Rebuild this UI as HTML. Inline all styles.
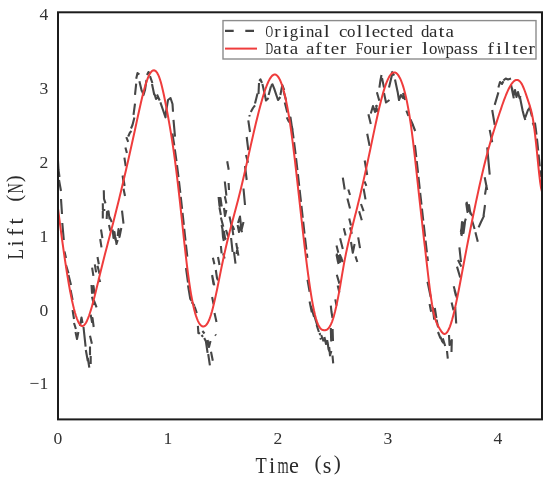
<!DOCTYPE html>
<html><head><meta charset="utf-8"><style>
html,body{margin:0;padding:0;background:#fff;}
svg{display:block;}
</style></head><body>
<svg width="550" height="481" viewBox="0 0 550 481">
<rect x="0" y="0" width="550" height="481" fill="#fff"/>
<g fill="none" stroke="#464646" stroke-width="2.1" stroke-linejoin="round" stroke-linecap="butt">
<path d="M58.0,161.0 L58.5,170.0 L59.5,177.0 M59.0,180.0 L61.0,191.0 M61.0,199.0 L62.0,214.0 M62.3,223.0 L63.8,240.0 M64.5,251.6 L66.0,258.0 M66.0,265.0 L68.5,273.3 M68.5,275.0 L71.0,285.0 M70.6,290.0 L72.6,300.0 M72.6,310.0 L74.0,319.0 M74.0,323.0 L75.9,329.0 M75.5,332.0 L77.0,339.0 L78.4,332.0 M80.0,326.0 L81.5,317.5 L82.5,323.0 M83.5,327.0 L85.6,346.6 M85.8,350.0 L87.8,361.0 M87.8,358.0 L89.3,367.7 M90.0,346.6 L90.0,355.3 M90.7,356.0 L90.7,364.0 M90.0,335.7 L91.9,343.7 M90.7,314.6 L92.0,322.0 L92.5,318.0 L93.7,327.0 M93.7,300.0 L96.6,307.3 M92.0,296.8 L94.0,305.0 M91.5,285.0 L92.0,293.0 L93.5,286.0 L94.5,294.0 M98.8,277.8 L100.2,282.0 M92.1,267.7 L93.4,275.8 M94.8,264.3 L96.1,272.4 M97.5,265.7 L99.5,273.8 M97.5,257.0 L98.8,264.3 M100.2,239.0 L101.5,247.4 M103.8,190.2 L104.0,198.9 L105.5,203.3 M102.8,203.3 L102.9,210.0 L105.3,210.0 M102.8,211.0 L102.8,218.6 M106.7,219.0 L107.0,212.0 L108.5,211.3 L109.6,219.3 M109.6,217.0 L111.8,222.2 M109.0,225.0 L110.4,231.0 M101.0,229.5 L102.4,238.2 M112.6,229.5 L113.5,238.0 L114.5,232.0 L115.5,240.4 M115.5,237.5 L116.5,244.0 L117.7,240.0 M117.7,236.0 L118.5,229.0 L119.5,237.0 L121.3,228.0 M122.0,210.6 L123.5,223.7 M123.5,188.7 L125.0,196.0 M123.6,179.5 L124.6,186.0 M122.6,175.5 L123.9,185.0 M124.4,157.7 L125.7,166.2 M125.4,147.4 L126.9,153.0 M126.3,137.1 L128.2,141.8 M128.2,136.5 L130.0,132.5 L131.5,131.0 M131.0,128.5 L132.5,125.0 L134.4,117.4 M133.5,114.9 L135.0,103.7 M135.0,94.9 L136.2,83.7 M136.2,78.7 L137.5,73.1 L139.4,74.5 M139.4,81.2 L141.8,91.2 M142.0,91.0 L143.5,95.0 L145.0,90.0 L146.5,80.0 M147.0,75.0 L148.5,72.0 L150.0,74.0 M150.0,76.2 L152.4,83.0 M152.0,84.0 L154.3,95.0 M154.5,94.0 L156.0,99.0 L158.0,97.0 M157.0,94.5 L159.7,100.5 M160.4,102.3 L163.0,110.0 L165.5,117.3 L166.0,112.0 L168.0,100.0 L170.5,98.0 L172.5,104.0 L173.0,111.7 M173.5,119.8 L175.0,136.6 M186.0,268.0 L188.0,282.5 M188.0,285.4 L190.3,299.0 L191.7,301.0 M191.7,302.0 L194.6,305.8 M194.6,306.5 L196.8,313.0 M197.9,325.9 L198.4,333.3 L200.2,333.3 M202.4,331.0 L204.5,333.5 M201.5,335.0 L203.0,336.8 M204.2,338.0 L206.5,342.5 M205.9,341.3 L207.6,352.8 M207.6,340.0 L209.0,347.0 L210.5,341.0 M208.2,354.0 L209.9,365.4 M211.0,351.7 L212.8,360.8 M214.5,313.0 L216.5,322.0 M215.2,334.5 L216.0,335.5 M212.1,297.0 L213.6,304.3 M212.1,275.0 L214.3,285.4 M212.2,276.0 L213.6,284.7 M215.8,270.0 L217.0,278.0 L218.0,280.3 M212.9,257.8 L214.4,264.3 M218.0,257.0 L219.5,265.0 M220.9,246.0 L221.6,253.4 M223.1,253.4 L224.6,258.5 M221.6,225.0 L223.1,232.3 M222.4,229.4 L223.0,237.0 L223.8,241.0 M223.8,231.0 L225.0,238.0 L226.0,239.6 M226.0,230.0 L228.2,236.6 M231.1,238.0 L232.6,252.0 M231.8,225.0 L233.3,235.2 M234.0,252.0 L235.5,263.6 M236.5,254.0 L237.6,247.0 M236.2,243.0 L238.4,255.6 M237.6,225.0 L239.0,232.0 L240.5,226.0 L242.0,232.3 M227.2,161.2 L228.7,169.8 M224.8,181.5 L226.4,195.6 M228.6,183.0 L229.0,190.0 M224.8,196.3 L226.4,203.4 M218.6,197.0 L219.5,206.0 L220.5,198.0 L221.7,206.5 M219.4,207.3 L220.9,215.0 M224.0,208.0 L225.0,216.0 L226.4,210.0 M220.9,217.4 L223.3,226.8 M229.5,216.6 L231.8,226.8 M232.6,226.0 L234.2,230.0 M238.0,223.0 L240.0,216.6 L241.5,230.0 L243.5,222.0 M243.5,188.5 L245.0,205.0 M245.0,166.0 L246.7,180.0 M246.0,155.0 L248.0,162.8 M246.7,137.0 L248.3,150.2 M248.3,120.3 L250.0,132.0 M249.3,115.0 L249.8,116.5 M250.8,112.0 L253.0,108.0 L255.0,105.3 M255.0,103.6 L257.5,93.6 M258.5,94.0 L259.0,83.0 M259.3,81.0 L260.5,79.4 L262.0,83.0 M262.4,84.0 L264.9,95.0 M264.9,95.0 L266.0,100.5 L268.6,98.0 M268.6,95.0 L271.0,86.2 M271.0,86.0 L272.5,84.3 L274.2,88.7 M274.2,88.7 L276.7,96.2 M276.7,96.0 L278.0,100.0 L280.4,97.0 M280.4,95.0 L282.3,85.0 L284.2,90.0 M283.6,91.2 L286.0,100.0 M284.8,102.4 L287.3,112.4 M286.7,117.4 L289.2,122.4 M289.0,122.0 L290.5,117.5 L292.3,130.0 M307.5,279.7 L309.6,291.7 M309.6,301.5 L311.8,312.4 M311.0,306.0 L314.0,316.8 M314.0,314.6 L317.3,325.5 M316.6,325.0 L318.9,332.0 M319.5,333.0 L320.3,335.0 M320.2,338.0 L321.0,339.5 M321.2,335.0 L323.6,341.5 M324.4,337.0 L326.0,344.0 L327.5,340.0 M327.5,341.5 L328.5,349.0 L329.8,352.4 M329.2,347.0 L330.0,355.5 L331.4,351.0 M330.8,328.0 L331.2,341.5 M332.6,329.0 L333.0,341.0 M332.5,355.5 L333.2,363.3 M330.8,305.6 L331.5,312.0 L332.5,318.0 M335.3,299.4 L336.5,305.6 M336.8,274.7 L339.4,283.6 M337.7,285.5 L339.4,292.4 M336.8,253.5 L337.5,258.0 L338.5,264.0 M338.5,255.0 L340.0,262.0 L341.5,257.0 M342.8,177.7 L344.7,189.5 M348.3,189.5 L350.0,195.0 M347.4,198.5 L350.0,208.5 M349.2,218.4 L351.0,225.6 M350.0,227.4 L351.9,233.8 M343.8,228.3 L345.6,235.6 M340.1,238.3 L342.8,249.1 M336.5,245.5 L338.3,252.8 M336.5,254.6 L338.0,262.0 L340.0,255.0 L342.8,262.0 M351.0,242.0 L352.8,252.8 L354.6,244.0 M355.5,256.4 L357.3,262.0 M358.2,237.4 L360.0,248.2 M359.1,211.2 L361.8,220.2 M361.0,204.0 L363.6,211.2 M363.6,188.6 L365.5,199.4 M364.5,181.3 L366.4,185.8 M364.7,160.5 L367.2,175.0 M367.2,133.7 L369.6,145.9 M368.4,114.2 L370.8,124.0 M370.8,113.5 L373.0,106.0 L375.0,112.0 L377.0,105.0 M376.9,92.3 L379.3,100.8 M376.0,105.0 L377.4,112.0 M379.4,87.6 L380.5,80.0 L381.5,75.0 M382.0,78.0 L384.0,87.6 M384.0,93.0 L386.0,102.5 L389.5,100.0 M389.0,87.6 L392.2,74.0 M391.5,71.4 L394.2,75.5 M395.0,79.5 L397.6,91.7 M397.6,91.7 L399.0,100.0 L401.0,95.0 L403.0,98.0 L404.4,93.0 M403.0,93.0 L405.0,100.0 M406.4,110.6 L408.4,116.0 M410.5,119.4 L413.2,125.5 M412.5,124.0 L415.2,131.0 M427.5,281.8 L430.7,297.0 M429.6,304.0 L431.1,311.8 M432.7,307.0 L434.2,319.6 M434.8,308.0 L436.4,318.0 M436.6,319.6 L438.1,327.4 M438.0,332.0 L440.5,338.4 M440.5,336.8 L442.0,341.0 L443.6,343.0 M442.8,338.4 L445.2,346.0 M447.0,351.0 L447.8,358.6 M449.0,335.0 L449.5,345.0 L451.8,340.0 L451.5,352.0 M451.6,302.5 L453.5,310.3 M455.2,307.0 L456.2,323.5 M453.7,286.2 L457.0,298.2 M454.5,290.0 L456.0,296.0 M457.0,266.6 L460.2,277.5 M458.0,260.0 L461.3,266.6 M460.8,232.0 L462.3,224.0 L463.5,233.0 L465.0,222.0 M461.5,236.0 L462.8,228.0 M466.2,203.0 L467.5,212.0 L469.0,205.0 L470.5,214.0 M459.4,247.4 L461.0,262.0 M461.0,234.6 L462.0,222.0 L463.0,230.0 L464.2,221.8 M463.4,226.6 L465.8,218.6 M466.6,201.8 L468.0,210.0 L469.8,211.4 M469.0,208.2 L471.0,214.0 L473.0,216.2 M472.2,221.0 L474.6,229.0 M475.4,232.2 L477.8,241.8 M478.6,227.4 L481.0,222.0 L484.2,215.4 M483.4,217.0 L485.0,205.0 M485.0,194.6 L486.6,185.0 M484.7,177.2 L487.2,190.0 M487.2,147.3 L489.7,174.7 M489.7,129.9 L492.2,142.3 M492.2,110.0 L494.7,124.9 M494.7,104.9 L498.4,92.4 M498.4,87.5 L500.0,82.0 L502.0,84.0 L503.4,81.2 M503.4,80.5 L505.7,78.5 L508.0,79.5 L511.0,78.5 M511.1,84.9 L512.5,92.0 L513.8,98.4 M512.0,88.0 L513.5,96.0 L515.0,90.0 L516.5,97.0 L518.0,92.0 L519.5,98.0 L520.6,96.0 M519.9,97.0 L522.6,110.5 M522.6,110.5 L524.0,116.0 L525.3,120.0 M525.3,117.3 L528.0,110.0 L530.0,107.8 M529.4,106.5 L532.0,116.6 M532.7,122.7 L535.4,129.5"/>
<path d="M172.4,133.5 L172.9,136.6 L173.4,139.8 L173.9,143.0 L174.4,146.3 L174.9,149.8 L175.4,153.3 L175.9,157.0 L176.4,160.7 L176.9,164.5 L177.4,168.4 L177.9,172.4 L178.4,176.5 L178.9,180.7 L179.4,184.9 L179.9,189.2 L180.4,193.6 L180.9,198.0 L181.4,202.5 L181.9,207.0 L182.4,211.6 L182.9,216.3 L183.4,220.9 L183.9,225.6 L184.4,230.3 L184.9,235.0 L185.4,239.6 L185.9,244.2 L186.4,248.7 L186.9,253.1 L187.4,257.5 M291.9,126.4 L292.4,129.8 L292.9,133.4 L293.4,137.1 L293.9,140.9 L294.4,144.8 L294.9,148.8 L295.4,152.8 L295.9,157.0 L296.4,161.2 L296.9,165.5 L297.4,169.8 L297.9,174.2 L298.4,178.6 L298.9,183.1 L299.4,187.6 L299.9,192.1 L300.4,196.6 L300.9,201.1 L301.4,205.6 L301.9,210.2 L302.4,214.7 L302.9,219.2 L303.4,223.6 L303.9,228.1 L304.4,232.5 L304.9,236.8 L305.4,241.1 L305.9,245.4 L306.4,249.6 L306.9,253.8 L307.4,257.9 M414.9,145.1 L415.4,149.4 L415.9,153.7 L416.4,158.1 L416.9,162.6 L417.4,167.1 L417.9,171.7 L418.4,176.3 L418.9,180.9 L419.4,185.6 L419.9,190.2 L420.4,194.8 L420.9,199.3 L421.4,203.9 L421.9,208.4 L422.4,212.8 L422.9,217.3 L423.4,221.7 L423.9,226.1 L424.4,230.5 L424.9,234.9 L425.4,239.3 L425.9,243.6 L426.4,248.0 L426.9,252.3 L427.4,256.7 L427.9,261.0 M534.9,122.7 L535.4,126.2 L535.9,129.9 L536.4,134.0 L536.9,138.3 L537.4,142.8 L537.9,147.6 L538.4,152.5 L538.9,157.5 L539.4,162.6 L539.9,167.6 L540.4,172.3 L540.9,176.8" stroke-dasharray="12 4"/>
</g>
<path d="M58.0,208.3 L59.0,216.2 L60.0,223.9 L61.0,231.5 L62.0,239.0 L63.0,246.2 L64.0,253.3 L65.0,260.1 L66.0,266.7 L67.0,273.1 L68.0,279.2 L69.0,285.0 L70.0,290.5 L71.0,295.6 L72.0,300.5 L73.0,304.9 L74.0,309.0 L75.0,312.7 L76.0,316.0 L77.0,318.8 L78.0,321.2 L79.0,323.2 L80.0,324.6 L81.0,325.6 L82.0,326.0 L83.0,325.9 L84.0,325.3 L85.0,324.2 L86.0,322.7 L87.0,320.7 L88.0,318.4 L89.0,315.8 L90.0,312.8 L91.0,309.6 L92.0,306.2 L93.0,302.5 L94.0,298.7 L95.0,294.7 L96.0,290.7 L97.0,286.5 L98.0,282.4 L99.0,278.2 L100.0,274.0 L101.0,269.9 L102.0,265.9 L103.0,261.9 L104.0,258.0 L105.0,254.1 L106.0,250.2 L107.0,246.4 L108.0,242.5 L109.0,238.7 L110.0,234.9 L111.0,231.1 L112.0,227.2 L113.0,223.4 L114.0,219.5 L115.0,215.5 L116.0,211.6 L117.0,207.6 L118.0,203.5 L119.0,199.4 L120.0,195.3 L121.0,191.2 L122.0,187.0 L123.0,182.8 L124.0,178.5 L125.0,174.2 L126.0,169.9 L127.0,165.5 L128.0,161.2 L129.0,156.7 L130.0,152.3 L131.0,147.8 L132.0,143.3 L133.0,138.8 L134.0,134.2 L135.0,129.7 L136.0,125.0 L137.0,120.4 L138.0,115.8 L139.0,111.2 L140.0,106.7 L141.0,102.3 L142.0,98.1 L143.0,94.0 L144.0,90.2 L145.0,86.6 L146.0,83.3 L147.0,80.3 L148.0,77.6 L149.0,75.4 L150.0,73.5 L151.0,72.1 L152.0,71.0 L153.0,70.4 L154.0,70.3 L155.0,70.6 L156.0,71.4 L157.0,72.6 L158.0,74.4 L159.0,76.7 L160.0,79.5 L161.0,82.8 L162.0,86.7 L163.0,90.9 L164.0,95.5 L165.0,100.5 L166.0,105.6 L167.0,110.9 L168.0,116.3 L169.0,121.9 L170.0,127.6 L171.0,133.5 L172.0,139.8 L173.0,146.3 L174.0,153.3 L175.0,160.7 L176.0,168.4 L177.0,176.5 L178.0,184.9 L179.0,193.6 L180.0,202.5 L181.0,211.6 L182.0,220.9 L183.0,230.3 L184.0,239.6 L185.0,248.7 L186.0,257.5 L187.0,265.8 L188.0,273.7 L189.0,281.0 L190.0,287.7 L191.0,293.8 L192.0,299.3 L193.0,304.3 L194.0,308.7 L195.0,312.6 L196.0,315.9 L197.0,318.7 L198.0,321.1 L199.0,323.0 L200.0,324.4 L201.0,325.5 L202.0,326.2 L203.0,326.5 L204.0,326.4 L205.0,326.0 L206.0,325.2 L207.0,324.0 L208.0,322.4 L209.0,320.3 L210.0,317.7 L211.0,314.6 L212.0,311.2 L213.0,307.4 L214.0,303.3 L215.0,299.0 L216.0,294.4 L217.0,289.7 L218.0,284.8 L219.0,279.9 L220.0,274.9 L221.0,269.9 L222.0,265.0 L223.0,260.2 L224.0,255.5 L225.0,251.1 L226.0,246.7 L227.0,242.5 L228.0,238.4 L229.0,234.4 L230.0,230.5 L231.0,226.7 L232.0,222.9 L233.0,219.1 L234.0,215.3 L235.0,211.6 L236.0,207.8 L237.0,204.0 L238.0,200.2 L239.0,196.3 L240.0,192.3 L241.0,188.2 L242.0,184.0 L243.0,179.8 L244.0,175.5 L245.0,171.1 L246.0,166.7 L247.0,162.2 L248.0,157.8 L249.0,153.3 L250.0,148.8 L251.0,144.4 L252.0,140.0 L253.0,135.6 L254.0,131.3 L255.0,127.0 L256.0,122.8 L257.0,118.7 L258.0,114.7 L259.0,110.8 L260.0,107.0 L261.0,103.4 L262.0,99.9 L263.0,96.5 L264.0,93.3 L265.0,90.3 L266.0,87.5 L267.0,84.9 L268.0,82.5 L269.0,80.4 L270.0,78.6 L271.0,77.1 L272.0,75.9 L273.0,75.1 L274.0,74.6 L275.0,74.5 L276.0,74.8 L277.0,75.5 L278.0,76.6 L279.0,78.1 L280.0,80.0 L281.0,82.3 L282.0,85.1 L283.0,88.3 L284.0,91.9 L285.0,96.0 L286.0,100.5 L287.0,105.4 L288.0,110.8 L289.0,116.7 L290.0,123.0 L291.0,129.8 L292.0,137.1 L293.0,144.8 L294.0,152.8 L295.0,161.2 L296.0,169.8 L297.0,178.6 L298.0,187.6 L299.0,196.6 L300.0,205.6 L301.0,214.7 L302.0,223.6 L303.0,232.5 L304.0,241.1 L305.0,249.6 L306.0,257.9 L307.0,265.8 L308.0,273.5 L309.0,280.7 L310.0,287.6 L311.0,294.1 L312.0,300.1 L313.0,305.6 L314.0,310.5 L315.0,314.9 L316.0,318.7 L317.0,321.9 L318.0,324.4 L319.0,326.4 L320.0,327.9 L321.0,329.0 L322.0,329.7 L323.0,330.1 L324.0,330.3 L325.0,330.3 L326.0,330.1 L327.0,329.6 L328.0,328.8 L329.0,327.7 L330.0,326.1 L331.0,324.2 L332.0,321.8 L333.0,319.0 L334.0,315.6 L335.0,311.8 L336.0,307.6 L337.0,302.9 L338.0,297.9 L339.0,292.6 L340.0,287.0 L341.0,281.1 L342.0,275.2 L343.0,269.4 L344.0,263.7 L345.0,258.4 L346.0,253.4 L347.0,248.7 L348.0,244.2 L349.0,240.0 L350.0,235.9 L351.0,231.9 L352.0,227.9 L353.0,224.0 L354.0,220.1 L355.0,216.1 L356.0,212.2 L357.0,208.2 L358.0,204.1 L359.0,200.0 L360.0,195.9 L361.0,191.6 L362.0,187.3 L363.0,182.9 L364.0,178.4 L365.0,173.9 L366.0,169.4 L367.0,164.8 L368.0,160.1 L369.0,155.4 L370.0,150.7 L371.0,145.9 L372.0,141.1 L373.0,136.4 L374.0,131.6 L375.0,126.9 L376.0,122.3 L377.0,117.7 L378.0,113.3 L379.0,108.9 L380.0,104.8 L381.0,100.8 L382.0,96.9 L383.0,93.3 L384.0,89.9 L385.0,86.8 L386.0,83.9 L387.0,81.3 L388.0,79.1 L389.0,77.1 L390.0,75.5 L391.0,74.2 L392.0,73.3 L393.0,72.7 L394.0,72.4 L395.0,72.5 L396.0,72.9 L397.0,73.7 L398.0,74.9 L399.0,76.4 L400.0,78.2 L401.0,80.4 L402.0,83.0 L403.0,85.9 L404.0,89.3 L405.0,93.0 L406.0,97.2 L407.0,101.9 L408.0,107.1 L409.0,112.7 L410.0,119.0 L411.0,125.7 L412.0,133.1 L413.0,141.0 L414.0,149.4 L415.0,158.1 L416.0,167.1 L417.0,176.3 L418.0,185.6 L419.0,194.8 L420.0,203.9 L421.0,212.8 L422.0,221.7 L423.0,230.5 L424.0,239.3 L425.0,248.0 L426.0,256.7 L427.0,265.3 L428.0,274.0 L429.0,282.3 L430.0,290.3 L431.0,297.6 L432.0,304.2 L433.0,309.9 L434.0,314.5 L435.0,318.3 L436.0,321.3 L437.0,323.7 L438.0,325.7 L439.0,327.6 L440.0,329.3 L441.0,330.9 L442.0,332.3 L443.0,333.3 L444.0,333.9 L445.0,333.9 L446.0,333.4 L447.0,332.4 L448.0,330.8 L449.0,328.8 L450.0,326.3 L451.0,323.4 L452.0,320.1 L453.0,316.4 L454.0,312.4 L455.0,308.1 L456.0,303.6 L457.0,298.8 L458.0,293.9 L459.0,288.8 L460.0,283.5 L461.0,278.2 L462.0,272.9 L463.0,267.5 L464.0,262.2 L465.0,256.9 L466.0,251.6 L467.0,246.4 L468.0,241.3 L469.0,236.2 L470.0,231.2 L471.0,226.2 L472.0,221.3 L473.0,216.3 L474.0,211.5 L475.0,206.7 L476.0,201.9 L477.0,197.2 L478.0,192.6 L479.0,188.0 L480.0,183.5 L481.0,179.1 L482.0,174.8 L483.0,170.5 L484.0,166.3 L485.0,162.3 L486.0,158.3 L487.0,154.4 L488.0,150.6 L489.0,147.0 L490.0,143.4 L491.0,140.0 L492.0,136.7 L493.0,133.4 L494.0,130.2 L495.0,127.0 L496.0,123.9 L497.0,120.9 L498.0,117.8 L499.0,114.8 L500.0,111.7 L501.0,108.8 L502.0,105.8 L503.0,103.0 L504.0,100.2 L505.0,97.6 L506.0,95.0 L507.0,92.6 L508.0,90.4 L509.0,88.3 L510.0,86.5 L511.0,84.8 L512.0,83.3 L513.0,82.1 L514.0,81.1 L515.0,80.4 L516.0,80.0 L517.0,79.9 L518.0,80.1 L519.0,80.7 L520.0,81.5 L521.0,82.8 L522.0,84.4 L523.0,86.5 L524.0,88.9 L525.0,91.5 L526.0,94.4 L527.0,97.4 L528.0,100.4 L529.0,103.3 L530.0,106.4 L531.0,109.9 L532.0,114.2 L533.0,119.5 L534.0,126.2 L535.0,134.0 L536.0,142.8 L537.0,152.5 L538.0,162.6 L539.0,172.3 L540.0,181.0 L541.0,187.7 L542.0,191.7" fill="none" stroke="#ef3c3c" stroke-width="2" stroke-linejoin="round"/>
<rect x="58" y="12.3" width="484" height="407.1" fill="none" stroke="#1c1c1c" stroke-width="2"/>
<g font-family='"Liberation Serif", serif' font-size="17.6" fill="#333"><text x="48.3" y="19.7" text-anchor="end">4</text><text x="48.3" y="93.7" text-anchor="end">3</text><text x="48.3" y="167.6" text-anchor="end">2</text><text x="48.3" y="241.6" text-anchor="end">1</text><text x="48.3" y="315.5" text-anchor="end">0</text><text x="48.3" y="389.4" text-anchor="end">−1</text><text x="58.0" y="443.7" text-anchor="middle">0</text><text x="168.0" y="443.7" text-anchor="middle">1</text><text x="278.0" y="443.7" text-anchor="middle">2</text><text x="388.0" y="443.7" text-anchor="middle">3</text><text x="498.0" y="443.7" text-anchor="middle">4</text></g>
<g fill="#2a2a2a">
<text font-family="&quot;Liberation Serif&quot;, serif" font-size="22.3" ><tspan x="255.40" y="472.80" textLength="11.20" lengthAdjust="spacingAndGlyphs">T</tspan><tspan x="268.90" y="472.80">i</tspan><tspan x="277.40" y="472.80" textLength="11.20" lengthAdjust="spacingAndGlyphs">m</tspan><tspan x="289.05" y="472.80">e</tspan><tspan x="314.47" y="470.40" font-size="21.18">(</tspan><tspan x="322.66" y="472.80">s</tspan><tspan x="333.67" y="470.40" font-size="21.18">)</tspan></text>
<g transform="translate(22.9,259.9) rotate(-90)"><text font-family="&quot;Liberation Serif&quot;, serif" font-size="22.3" ><tspan x="0.30" y="0.00" textLength="10.40" lengthAdjust="spacingAndGlyphs">L</tspan><tspan x="13.40" y="0.00">i</tspan><tspan x="23.79" y="0.00">f</tspan><tspan x="35.40" y="0.00">t</tspan><tspan x="58.17" y="-1.90" font-size="21.18">(</tspan><tspan x="66.30" y="0.00" textLength="10.40" lengthAdjust="spacingAndGlyphs">N</tspan><tspan x="77.77" y="-1.90" font-size="21.18">)</tspan></text></g>
</g>
<rect x="223" y="20.6" width="313" height="38.4" fill="#fff" stroke="#8c8c8c" stroke-width="1.4"/>
<line x1="225" y1="30.9" x2="257" y2="30.9" stroke="#444" stroke-width="2.3" stroke-dasharray="8.7 11.6"/>
<line x1="225" y1="48.6" x2="257" y2="48.6" stroke="#ef3c3c" stroke-width="2"/>
<g fill="#2a2a2a">
<text font-family="&quot;Liberation Serif&quot;, serif" font-size="17" ><tspan x="265.50" y="36.90" textLength="7.60" lengthAdjust="spacingAndGlyphs">O</tspan><tspan x="274.33" y="36.90" textLength="6.34" lengthAdjust="spacingAndGlyphs">r</tspan><tspan x="282.70" y="36.90" textLength="6.00" lengthAdjust="spacingAndGlyphs">i</tspan><tspan x="289.70" y="36.90" textLength="8.40" lengthAdjust="spacingAndGlyphs">g</tspan><tspan x="299.10" y="36.90" textLength="6.00" lengthAdjust="spacingAndGlyphs">i</tspan><tspan x="306.10" y="36.90" textLength="8.40" lengthAdjust="spacingAndGlyphs">n</tspan><tspan x="314.30" y="36.90" textLength="8.40" lengthAdjust="spacingAndGlyphs">a</tspan><tspan x="323.70" y="36.90" textLength="6.00" lengthAdjust="spacingAndGlyphs">l</tspan><tspan x="338.90" y="36.90" textLength="8.40" lengthAdjust="spacingAndGlyphs">c</tspan><tspan x="347.10" y="36.90" textLength="8.40" lengthAdjust="spacingAndGlyphs">o</tspan><tspan x="356.50" y="36.90" textLength="6.00" lengthAdjust="spacingAndGlyphs">l</tspan><tspan x="364.70" y="36.90" textLength="6.00" lengthAdjust="spacingAndGlyphs">l</tspan><tspan x="371.70" y="36.90" textLength="8.40" lengthAdjust="spacingAndGlyphs">e</tspan><tspan x="379.90" y="36.90" textLength="8.40" lengthAdjust="spacingAndGlyphs">c</tspan><tspan x="389.30" y="36.90" textLength="6.00" lengthAdjust="spacingAndGlyphs">t</tspan><tspan x="396.30" y="36.90" textLength="8.40" lengthAdjust="spacingAndGlyphs">e</tspan><tspan x="404.50" y="36.90" textLength="8.40" lengthAdjust="spacingAndGlyphs">d</tspan><tspan x="420.90" y="36.90" textLength="8.40" lengthAdjust="spacingAndGlyphs">d</tspan><tspan x="429.10" y="36.90" textLength="8.40" lengthAdjust="spacingAndGlyphs">a</tspan><tspan x="438.50" y="36.90" textLength="6.00" lengthAdjust="spacingAndGlyphs">t</tspan><tspan x="445.50" y="36.90" textLength="8.40" lengthAdjust="spacingAndGlyphs">a</tspan></text>
<text font-family="&quot;Liberation Serif&quot;, serif" font-size="17" ><tspan x="265.50" y="53.80" textLength="7.60" lengthAdjust="spacingAndGlyphs">D</tspan><tspan x="273.30" y="53.80" textLength="8.40" lengthAdjust="spacingAndGlyphs">a</tspan><tspan x="282.70" y="53.80" textLength="6.00" lengthAdjust="spacingAndGlyphs">t</tspan><tspan x="289.70" y="53.80" textLength="8.40" lengthAdjust="spacingAndGlyphs">a</tspan><tspan x="306.10" y="53.80" textLength="8.40" lengthAdjust="spacingAndGlyphs">a</tspan><tspan x="315.33" y="53.80" textLength="6.34" lengthAdjust="spacingAndGlyphs">f</tspan><tspan x="323.70" y="53.80" textLength="6.00" lengthAdjust="spacingAndGlyphs">t</tspan><tspan x="330.70" y="53.80" textLength="8.40" lengthAdjust="spacingAndGlyphs">e</tspan><tspan x="339.93" y="53.80" textLength="6.34" lengthAdjust="spacingAndGlyphs">r</tspan><tspan x="355.70" y="53.80" textLength="7.60" lengthAdjust="spacingAndGlyphs">F</tspan><tspan x="363.50" y="53.80" textLength="8.40" lengthAdjust="spacingAndGlyphs">o</tspan><tspan x="371.70" y="53.80" textLength="8.40" lengthAdjust="spacingAndGlyphs">u</tspan><tspan x="380.93" y="53.80" textLength="6.34" lengthAdjust="spacingAndGlyphs">r</tspan><tspan x="389.30" y="53.80" textLength="6.00" lengthAdjust="spacingAndGlyphs">i</tspan><tspan x="396.30" y="53.80" textLength="8.40" lengthAdjust="spacingAndGlyphs">e</tspan><tspan x="405.53" y="53.80" textLength="6.34" lengthAdjust="spacingAndGlyphs">r</tspan><tspan x="422.10" y="53.80" textLength="6.00" lengthAdjust="spacingAndGlyphs">l</tspan><tspan x="429.10" y="53.80" textLength="8.40" lengthAdjust="spacingAndGlyphs">o</tspan><tspan x="437.30" y="53.80" textLength="8.40" lengthAdjust="spacingAndGlyphs">w</tspan><tspan x="445.50" y="53.80" textLength="8.40" lengthAdjust="spacingAndGlyphs">p</tspan><tspan x="453.70" y="53.80" textLength="8.40" lengthAdjust="spacingAndGlyphs">a</tspan><tspan x="462.40" y="53.80" textLength="7.41" lengthAdjust="spacingAndGlyphs">s</tspan><tspan x="470.60" y="53.80" textLength="7.41" lengthAdjust="spacingAndGlyphs">s</tspan><tspan x="487.53" y="53.80" textLength="6.34" lengthAdjust="spacingAndGlyphs">f</tspan><tspan x="495.90" y="53.80" textLength="6.00" lengthAdjust="spacingAndGlyphs">i</tspan><tspan x="504.10" y="53.80" textLength="6.00" lengthAdjust="spacingAndGlyphs">l</tspan><tspan x="512.30" y="53.80" textLength="6.00" lengthAdjust="spacingAndGlyphs">t</tspan><tspan x="519.30" y="53.80" textLength="8.40" lengthAdjust="spacingAndGlyphs">e</tspan><tspan x="528.53" y="53.80" textLength="6.34" lengthAdjust="spacingAndGlyphs">r</tspan></text>
</g>
</svg>
</body></html>
